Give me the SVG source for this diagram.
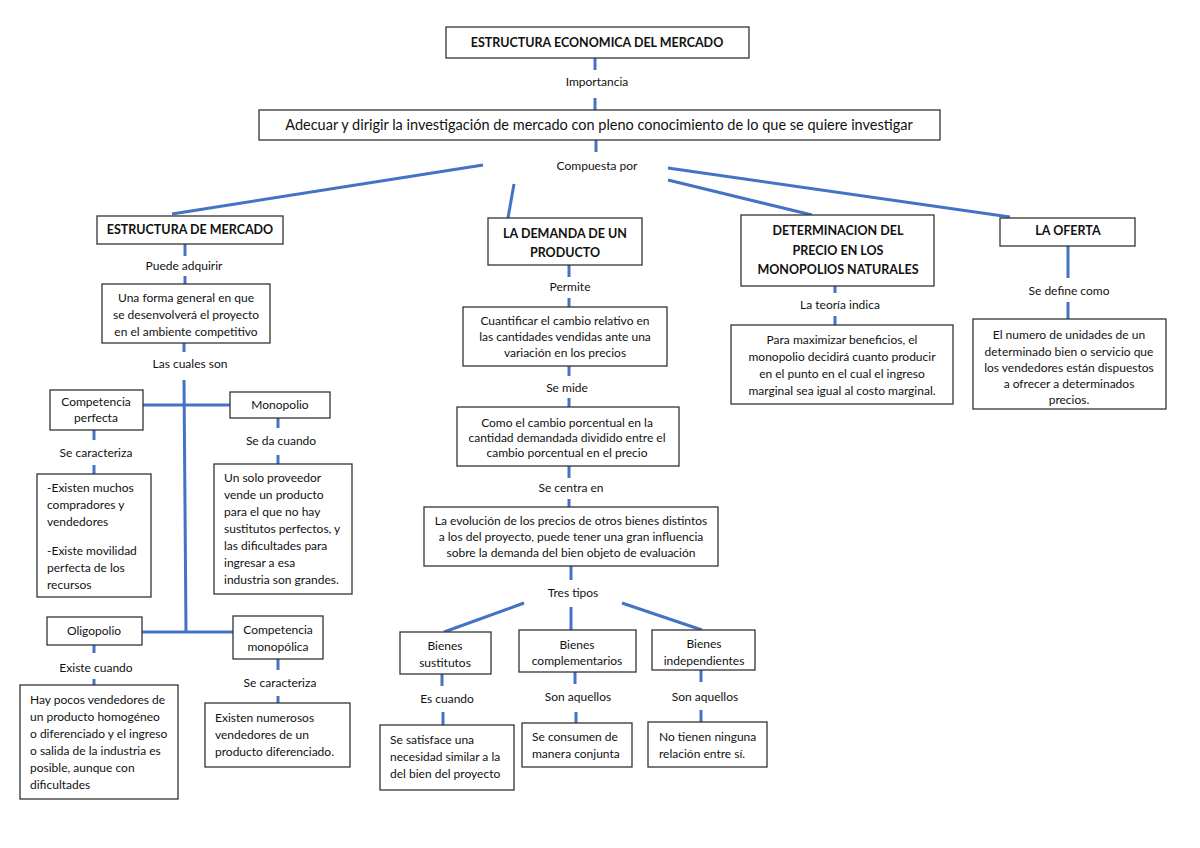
<svg xmlns="http://www.w3.org/2000/svg" width="1200" height="848" viewBox="0 0 1200 848">
<style>
.bx{fill:#fff;stroke:#333;stroke-width:1.3}
.t{font-family:Lato,"Open Sans","Liberation Sans",sans-serif;font-size:12px;fill:#111;text-anchor:middle}
.l{text-anchor:start}
.b{font-weight:bold;font-size:12.5px}
.c line{stroke:#4472C4;stroke-width:3}
</style>
<rect width="1200" height="848" fill="#fff"/>
<g class="c" id="connectors">
<line x1="595" y1="58" x2="595" y2="70"/>
<line x1="595" y1="98" x2="595" y2="110"/>
<line x1="596" y1="140" x2="596" y2="152"/>
<line x1="483" y1="165" x2="172" y2="214"/>
<line x1="514" y1="184" x2="508" y2="218"/>
<line x1="668" y1="180" x2="812" y2="215"/>
<line x1="668" y1="168" x2="1010" y2="217"/>
<line x1="185" y1="244" x2="185" y2="256"/>
<line x1="185" y1="276" x2="185" y2="284"/>
<line x1="184" y1="343" x2="184" y2="352"/>
<line x1="184" y1="380" x2="186" y2="633"/>
<line x1="143" y1="405" x2="230" y2="405"/>
<line x1="142" y1="632" x2="233" y2="632"/>
<line x1="94" y1="430" x2="94" y2="440"/>
<line x1="94" y1="465" x2="94" y2="474"/>
<line x1="278" y1="418" x2="278" y2="428"/>
<line x1="278" y1="455" x2="278" y2="465"/>
<line x1="94" y1="645" x2="94" y2="653"/>
<line x1="94" y1="679" x2="94" y2="686"/>
<line x1="278" y1="659" x2="278" y2="670"/>
<line x1="278" y1="696" x2="278" y2="704"/>
<line x1="569" y1="265" x2="569" y2="277"/>
<line x1="569" y1="298" x2="569" y2="308"/>
<line x1="569" y1="366" x2="569" y2="376"/>
<line x1="569" y1="398" x2="569" y2="407"/>
<line x1="569" y1="466" x2="569" y2="478"/>
<line x1="569" y1="499" x2="569" y2="507"/>
<line x1="571" y1="566" x2="571" y2="580"/>
<line x1="524" y1="603" x2="444" y2="632"/>
<line x1="571" y1="607" x2="571" y2="630"/>
<line x1="622" y1="603" x2="702" y2="630"/>
<line x1="442" y1="674" x2="442" y2="686"/>
<line x1="443" y1="712" x2="443" y2="725"/>
<line x1="575" y1="672" x2="575" y2="684"/>
<line x1="576" y1="712" x2="576" y2="723"/>
<line x1="701" y1="670" x2="701" y2="682"/>
<line x1="701" y1="710" x2="701" y2="722"/>
<line x1="835" y1="286" x2="835" y2="293"/>
<line x1="835" y1="316" x2="835" y2="325"/>
<line x1="1068" y1="246" x2="1068" y2="278"/>
<line x1="1068" y1="302" x2="1068" y2="320"/>
</g>
<g id="labels">
<text class="t" x="597" y="86">Importancia</text>
<text class="t" x="597" y="170">Compuesta por</text>
<text class="t" x="184" y="270">Puede adquirir</text>
<text class="t" x="190" y="368">Las cuales son</text>
<text class="t" x="96" y="457">Se caracteriza</text>
<text class="t" x="281" y="445">Se da cuando</text>
<text class="t" x="96" y="672">Existe cuando</text>
<text class="t" x="280" y="687">Se caracteriza</text>
<text class="t" x="570" y="291">Permite</text>
<text class="t" x="567" y="392">Se mide</text>
<text class="t" x="571" y="492">Se centra en</text>
<text class="t" x="573" y="597">Tres tipos</text>
<text class="t" x="447" y="703">Es cuando</text>
<text class="t" x="578" y="701">Son aquellos</text>
<text class="t" x="705" y="701">Son aquellos</text>
<text class="t" x="840" y="309">La teoría indica</text>
<text class="t" x="1069" y="295">Se define como</text>
</g>
<g id="n-root"><rect class="bx" x="446" y="27" width="303" height="31"/><text class="t b" x="597" y="47">ESTRUCTURA ECONOMICA DEL MERCADO</text></g>
<g id="n-adecuar"><rect class="bx" x="259" y="110" width="681" height="30"/><text class="t" x="599" y="130" style="font-size:14.5px">Adecuar y dirigir la investigación de mercado con pleno conocimiento de lo que se quiere investigar</text></g>
<g id="n-estructura"><rect class="bx" x="97" y="216" width="186" height="28"/><text class="t b" x="190" y="234">ESTRUCTURA DE MERCADO</text></g>
<g id="n-demanda"><rect class="bx" x="488" y="218" width="154" height="47"/><text class="t b" x="565" y="238">LA DEMANDA DE UN</text><text class="t b" x="565" y="257">PRODUCTO</text></g>
<g id="n-determinacion"><rect class="bx" x="741" y="215" width="193" height="71"/><text class="t b" x="838" y="235">DETERMINACION DEL</text><text class="t b" x="838" y="255">PRECIO EN LOS</text><text class="t b" x="838" y="274">MONOPOLIOS NATURALES</text></g>
<g id="n-oferta"><rect class="bx" x="1000" y="218" width="135" height="28"/><text class="t b" x="1068" y="235">LA OFERTA</text></g>
<g id="n-forma"><rect class="bx" x="102" y="284" width="168" height="59"/><text class="t" x="186" y="302">Una forma general en que</text><text class="t" x="186" y="319">se desenvolverá el proyecto</text><text class="t" x="186" y="336">en el ambiente competitivo</text></g>
<g id="n-compperf"><rect class="bx" x="50" y="390" width="93" height="40"/><text class="t" x="96" y="406">Competencia</text><text class="t" x="96" y="422">perfecta</text></g>
<g id="n-monopolio"><rect class="bx" x="230" y="392" width="100" height="26"/><text class="t" x="280" y="409">Monopolio</text></g>
<g id="n-existen"><rect class="bx" x="37" y="474" width="114" height="123"/><text class="t l" x="47" y="492">-Existen muchos</text><text class="t l" x="47" y="509">compradores y</text><text class="t l" x="47" y="526">vendedores</text><text class="t l" x="47" y="555">-Existe movilidad</text><text class="t l" x="47" y="572">perfecta de los</text><text class="t l" x="47" y="589">recursos</text></g>
<g id="n-unsolo"><rect class="bx" x="214" y="464" width="138" height="130"/><text class="t l" x="224" y="482">Un solo proveedor</text><text class="t l" x="224" y="499">vende un producto</text><text class="t l" x="224" y="516">para el que no hay</text><text class="t l" x="224" y="533">sustitutos perfectos, y</text><text class="t l" x="224" y="550">las dificultades para</text><text class="t l" x="224" y="567">ingresar a esa</text><text class="t l" x="224" y="584">industria son grandes.</text></g>
<g id="n-oligopolio"><rect class="bx" x="47" y="617" width="95" height="28"/><text class="t" x="94" y="635">Oligopolio</text></g>
<g id="n-compmono"><rect class="bx" x="233" y="616" width="90" height="43"/><text class="t" x="278" y="634">Competencia</text><text class="t" x="278" y="651">monopólica</text></g>
<g id="n-haypocos"><rect class="bx" x="20" y="685" width="158" height="114"/><text class="t l" x="30" y="704">Hay pocos vendedores de</text><text class="t l" x="30" y="721">un producto homogéneo</text><text class="t l" x="30" y="738">o diferenciado y el ingreso</text><text class="t l" x="30" y="755">o salida de la industria es</text><text class="t l" x="30" y="772">posible, aunque con</text><text class="t l" x="30" y="789">dificultades</text></g>
<g id="n-numerosos"><rect class="bx" x="205" y="703" width="145" height="64"/><text class="t l" x="215" y="722">Existen numerosos</text><text class="t l" x="215" y="739">vendedores de un</text><text class="t l" x="215" y="756">producto diferenciado.</text></g>
<g id="n-cuantificar"><rect class="bx" x="463" y="307" width="204" height="59"/><text class="t" x="565" y="325">Cuantificar el cambio relativo en</text><text class="t" x="565" y="341">las cantidades vendidas ante una</text><text class="t" x="565" y="357">variación en los precios</text></g>
<g id="n-como"><rect class="bx" x="457" y="407" width="222" height="59"/><text class="t" x="567" y="427">Como el cambio porcentual en la</text><text class="t" x="567" y="442">cantidad demandada dividido entre el</text><text class="t" x="567" y="457">cambio porcentual en el precio</text></g>
<g id="n-evolucion"><rect class="bx" x="424" y="507" width="294" height="59"/><text class="t" x="571" y="525">La evolución de los precios de otros bienes distintos</text><text class="t" x="571" y="541">a los del proyecto, puede tener una gran influencia</text><text class="t" x="571" y="557">sobre la demanda del bien objeto de evaluación</text></g>
<g id="n-sustitutos"><rect class="bx" x="400" y="632" width="91" height="42"/><text class="t" x="445" y="650">Bienes</text><text class="t" x="445" y="667">sustitutos</text></g>
<g id="n-complementarios"><rect class="bx" x="519" y="630" width="117" height="42"/><text class="t" x="577" y="649">Bienes</text><text class="t" x="577" y="665">complementarios</text></g>
<g id="n-independientes"><rect class="bx" x="652" y="630" width="103" height="40"/><text class="t" x="704" y="648">Bienes</text><text class="t" x="704" y="665">independientes</text></g>
<g id="n-satisface"><rect class="bx" x="380" y="725" width="134" height="65"/><text class="t l" x="390" y="744">Se satisface una</text><text class="t l" x="390" y="761">necesidad similar a la</text><text class="t l" x="390" y="778">del bien del proyecto</text></g>
<g id="n-consumen"><rect class="bx" x="522" y="723" width="110" height="44"/><text class="t l" x="532" y="741">Se consumen de</text><text class="t l" x="532" y="758">manera conjunta</text></g>
<g id="n-notienen"><rect class="bx" x="648" y="722" width="119" height="45"/><text class="t l" x="659" y="741">No tienen ninguna</text><text class="t l" x="659" y="758">relación entre sí.</text></g>
<g id="n-maximizar"><rect class="bx" x="731" y="325" width="222" height="79"/><text class="t" x="842" y="344">Para maximizar beneficios, el</text><text class="t" x="842" y="361">monopolio decidirá cuanto producir</text><text class="t" x="842" y="378">en el punto en el cual el ingreso</text><text class="t" x="842" y="395">marginal sea igual al costo marginal.</text></g>
<g id="n-numero"><rect class="bx" x="973" y="319" width="193" height="90"/><text class="t" x="1069" y="339">El numero de unidades de un</text><text class="t" x="1069" y="356">determinado bien o servicio que</text><text class="t" x="1069" y="372">los vendedores están dispuestos</text><text class="t" x="1069" y="388">a ofrecer a determinados</text><text class="t" x="1069" y="404">precios.</text></g>
</svg>
